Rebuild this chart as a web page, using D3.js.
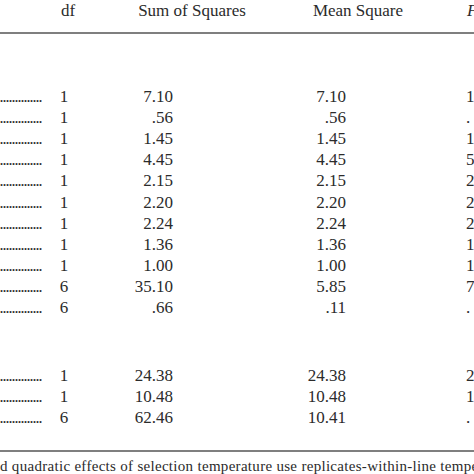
<!DOCTYPE html>
<html>
<head>
<meta charset="utf-8">
<script src="https://cdn.jsdelivr.net/npm/d3@7"></script>
<style>
  body { margin: 0; background: #fff; }
  svg { display: block; }
</style>
</head>
<body>
<svg width="474" height="474"></svg>
<script>
// Table values (right-hand F column is cut off in the picture)
const headers = ['df', 'Sum of Squares', 'Mean Square', 'F'];
const dfA = ['1', '1', '1', '1', '1', '1', '1', '1', '1', '6', '6'];
const ssA = ['7.10', '.56', '1.45', '4.45', '2.15', '2.20', '2.24', '1.36', '1.00', '35.10', '.66'];
const msA = ['7.10', '.56', '1.45', '4.45', '2.15', '2.20', '2.24', '1.36', '1.00', '5.85', '.11'];
const fA = ['1.', '.', '1.', '5.', '2.', '2.', '2.', '1.', '1.', '7.', '.'];
const dfB = ['1', '1', '6'];
const ssB = ['24.38', '10.48', '62.46'];
const msB = ['24.38', '10.48', '10.41'];
const fB = ['2.', '1.', '.'];
const footnote = 'd quadratic effects of selection temperature use replicates-within-line temperature a';

const svg = d3.select('svg');
const font = '"Liberation Serif", "DejaVu Serif", serif';
const ink = '#2b2b2b';

// Build rows; second block sits a few lines lower
const rows = [];
dfA.forEach((d, i) => rows.push({ pos: i, df: d, ss: ssA[i], ms: msA[i], f: fA[i] }));
dfB.forEach((d, i) => rows.push({ pos: 13.2 + i, df: d, ss: ssB[i], ms: msB[i], f: fB[i] }));

const y = d3.scaleLinear().domain([0, 10]).range([102, 313]);

// header
const hx = [68, 192, 358, 467];
svg.selectAll('text.head')
  .data(headers)
  .enter().append('text')
  .attr('class', 'head')
  .attr('x', (d, i) => hx[i])
  .attr('y', 16)
  .attr('text-anchor', (d, i) => i === 3 ? 'start' : 'middle')
  .style('font-style', (d, i) => i === 3 ? 'italic' : 'normal')
  .style('font-family', font)
  .style('font-size', '17px')
  .attr('fill', ink)
  .text(d => d);

// rules
[33, 451].forEach(ry => {
  svg.append('line')
    .attr('x1', 0).attr('x2', 474)
    .attr('y1', ry).attr('y2', ry)
    .attr('stroke', '#555')
    .attr('stroke-width', 1.5);
});

// cells
const cols = [
  { key: 'leader', x: 42, anchor: 'end' },
  { key: 'df', x: 64, anchor: 'middle' },
  { key: 'ss', x: 173, anchor: 'end' },
  { key: 'ms', x: 346, anchor: 'end' },
  { key: 'f', x: 466, anchor: 'start' }
];

const g = svg.append('g');
rows.forEach(r => {
  cols.forEach(c => {
    g.append('text')
      .attr('x', c.x)
      .attr('y', y(r.pos))
      .attr('text-anchor', c.anchor)
      .style('font-family', font)
      .style('font-size', c.key === 'leader' ? '12px' : '17px')
      .style('font-weight', c.key === 'leader' ? 'bold' : 'normal')
      .attr('fill', ink)
      .text(c.key === 'leader' ? '................' : r[c.key]);
  });
});

// footnote
svg.append('text')
  .attr('x', 0)
  .attr('y', 471)
  .style('font-family', font)
  .style('font-size', '15px')
  .style('letter-spacing', '0.3px')
  .attr('fill', ink)
  .text(footnote);
</script>
</body>
</html>
